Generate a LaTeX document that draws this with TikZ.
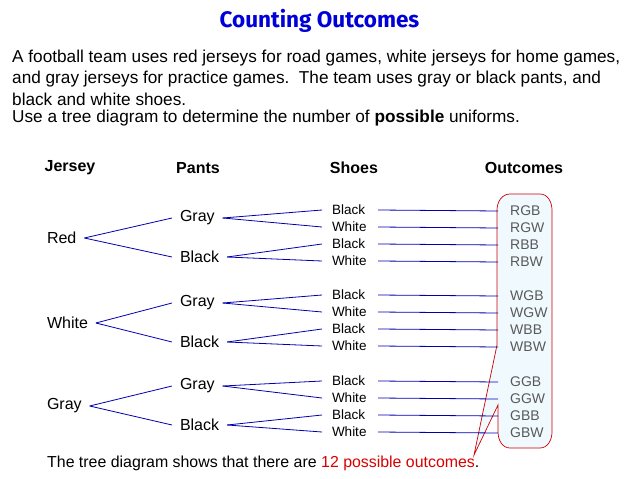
\documentclass[tikz,border=0pt]{standalone}
\usepackage{fontspec}
\setmainfont{Liberation Sans}
\newfontfamily\titlefont{Fira Sans}
\begin{document}
\begin{tikzpicture}[x=1pt,y=-1pt,
  txt/.style={font=\fontsize{17.2}{19}\selectfont,anchor=west,inner sep=0},
  hd/.style={font=\fontsize{16}{19}\selectfont\bfseries,inner sep=0},
  lab/.style={font=\fontsize{16}{19}\selectfont,anchor=west,inner sep=0,outer sep=8pt},
  sh/.style={font=\fontsize{13.5}{15}\selectfont,anchor=west,inner sep=0,outer sep=10pt},
  oc/.style={font=\fontsize{14}{15}\selectfont,anchor=west,inner sep=0,text=black!65},
  br/.style={draw=blue!70!black,line width=0.8pt},
  ]
\useasboundingbox (0,0) rectangle (638,479);
\fill[white] (0,0) rectangle (638,479);
\node[font=\titlefont\fontsize{22.5}{26}\selectfont\bfseries,text=blue!85!black,inner sep=0] (title) at (319.5,20.5) {Counting Outcomes};
\node[txt] (p1) at (12,58) {A football team uses red jerseys for road games, white jerseys for home games,};
\node[txt] (p2) at (12,79) {and gray jerseys for practice games.\ \ The team uses gray or black pants, and};
\node[txt] (p3) at (12,99) {black and white shoes.};
\node[txt] (p4) at (12,118) {Use a tree diagram to determine the number of \textbf{possible} uniforms.};
\node[hd] (hj) at (70,168) {Jersey};
\node[hd] (hp) at (198,168) {Pants};
\node[hd] (hs) at (354,168) {Shoes};
\node[hd] (ho) at (524,168) {Outcomes};
% callout
\draw[red!80!black,fill=cyan!6,line width=0.7pt]
  (510,194) -- (540,194) to[out=0,in=90] (552,210) -- (552,432) to[out=-90,in=0] (540,448)
  -- (510,448) to[out=180,in=-90] (498,432) -- (498,405) -- (474,455) -- (497,345)
  -- (497,210) to[out=90,in=180] (510,194) -- cycle;
% jerseys
\node[lab] (j0) at (39,238) {Red};
\node[lab] (j1) at (39,323) {White};
\node[lab] (j2) at (39,406) {Gray};
\foreach \k/\y in {0/238,1/323,2/406}{
  \node[lab] (pg\k) at (172,\y-20) {Gray};
  \node[lab] (pb\k) at (172,\y+19) {Black};
  \draw[br] (j\k.east) -- (pg\k.west);
  \draw[br] (j\k.east) -- (pb\k.west);
}
\foreach \k/\y/\L in {0/210/R,1/295/W,2/381/G}{
  \node[sh] (s\k a) at (322,\y) {Black};
  \node[sh] (s\k b) at (322,\y+17) {White};
  \node[sh] (s\k c) at (322,\y+34) {Black};
  \node[sh] (s\k d) at (322,\y+51) {White};
  \draw[br] (pg\k.east) -- (s\k a.west);
  \draw[br] (pg\k.east) -- (s\k b.west);
  \draw[br] (pb\k.east) -- (s\k c.west);
  \draw[br] (pb\k.east) -- (s\k d.west);
  \node[oc] (o\k a) at (510,\y+1) {\L GB};
  \node[oc] (o\k b) at (510,\y+18) {\L GW};
  \node[oc] (o\k c) at (510,\y+35) {\L BB};
  \node[oc] (o\k d) at (510,\y+52) {\L BW};
  \foreach \m in {a,b,c,d}{
    \draw[br] (378,0 |- s\k\m.west) -- ([xshift=-12pt]o\k\m.west);
  }
}
\node[txt,font=\fontsize{15.9}{19}\selectfont] (bt) at (47,463) {The tree diagram shows that there are \textcolor{red!85!black}{12 possible outcomes}.};
\end{tikzpicture}
\end{document}
